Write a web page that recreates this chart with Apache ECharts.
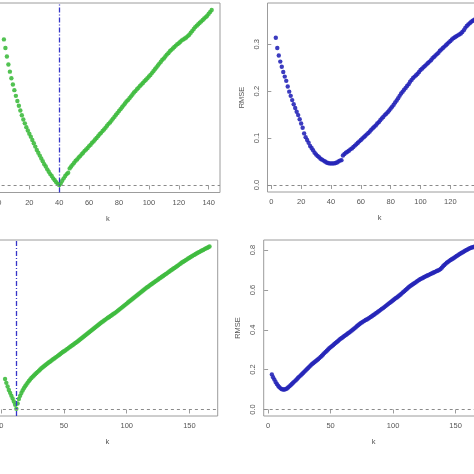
<!DOCTYPE html>
<html>
<head>
<meta charset="utf-8">
<script src="https://cdn.jsdelivr.net/npm/echarts@6/dist/echarts.min.js"></script>
<style>
html,body{margin:0;padding:0;background:#fff;}
#chart{width:474px;height:474px;}
</style>
</head>
<body>
<div id="chart"></div>
<script>
// ---------- data ----------
const kStartTop = 3;      // first k in the top panels
const kStartBottom = 3;   // first k in the bottom panels
const optimalKTop = 40;   // vertical dot-dash line, top-left panel
const optimalKBottom = 12;// vertical dot-dash line, bottom-left panel
const zeroLevel = 0;      // horizontal dashed reference line

// top-left panel (green), k = 3..142
const topLeftValues = [
  0.308,0.290,0.272,0.255,0.240,0.226,0.213,0.201,
  0.189,0.178,0.168,0.158,0.148,0.139,0.131,0.123,0.116,0.109,
  0.103,0.096,0.089,0.082,0.075,0.069,0.063,0.057,0.051,0.045,
  0.040,0.034,0.029,0.024,0.020,0.015,0.011,0.007,0.003,0.001,
  0.004,0.010,0.015,0.020,0.024,0.027,0.036,0.040,0.044,0.048,
  0.052,0.055,0.059,0.062,0.066,0.069,0.073,0.076,0.079,0.083,
  0.086,0.090,0.093,0.097,0.100,0.104,0.108,0.111,0.115,0.118,
  0.122,0.126,0.130,0.133,0.137,0.141,0.145,0.149,0.153,0.157,
  0.161,0.165,0.169,0.173,0.177,0.180,0.184,0.188,0.192,0.196,
  0.199,0.203,0.206,0.210,0.213,0.216,0.220,0.223,0.226,0.230,
  0.233,0.237,0.241,0.245,0.249,0.253,0.257,0.261,0.265,0.268,
  0.272,0.276,0.279,0.283,0.286,0.289,0.292,0.295,0.298,0.300,
  0.303,0.306,0.308,0.310,0.312,0.315,0.318,0.322,0.326,0.330,
  0.334,0.337,0.340,0.343,0.346,0.349,0.352,0.355,0.358,0.362,
  0.366,0.370
];

// top-right panel (blue RMSE), k = 3..142
const topRightRMSE = [
  0.314,0.292,0.276,0.263,0.252,0.241,0.231,0.222,
  0.210,0.199,0.190,0.181,0.172,0.164,0.156,0.149,0.140,0.131,
  0.122,0.110,0.102,0.096,0.090,0.083,0.079,0.074,0.069,0.065,
  0.062,0.059,0.056,0.054,0.052,0.050,0.048,0.047,0.046,0.046,
  0.046,0.046,0.047,0.048,0.050,0.052,0.053,0.063,0.066,0.069,
  0.071,0.073,0.076,0.078,0.081,0.084,0.087,0.090,0.093,0.096,
  0.099,0.102,0.105,0.108,0.111,0.114,0.118,0.121,0.124,0.127,
  0.131,0.134,0.138,0.142,0.145,0.149,0.152,0.155,0.159,0.163,
  0.167,0.171,0.176,0.180,0.185,0.190,0.195,0.199,0.203,0.207,
  0.211,0.215,0.220,0.224,0.228,0.231,0.234,0.237,0.241,0.245,
  0.248,0.251,0.254,0.257,0.260,0.263,0.266,0.270,0.273,0.276,
  0.279,0.282,0.286,0.289,0.292,0.295,0.298,0.301,0.304,0.307,
  0.310,0.313,0.315,0.317,0.319,0.321,0.323,0.326,0.330,0.335,
  0.339,0.342,0.345,0.348,0.350,0.352,0.355,0.358,0.362,0.365,
  0.369,0.373
];

// bottom-left panel (green), k = 3..166
const bottomLeftValues = [
  0.152,0.133,0.115,0.097,0.083,0.069,0.055,0.040,
  0.024,0.004,0.030,0.052,0.068,0.082,0.095,0.106,0.116,0.125,
  0.134,0.142,0.150,0.157,0.164,0.170,0.176,0.182,0.188,0.194,
  0.200,0.206,0.211,0.216,0.221,0.226,0.231,0.236,0.240,0.245,
  0.250,0.254,0.259,0.263,0.268,0.272,0.277,0.282,0.287,0.291,
  0.295,0.300,0.304,0.309,0.313,0.318,0.322,0.327,0.332,0.336,
  0.341,0.346,0.351,0.356,0.361,0.366,0.371,0.376,0.381,0.386,
  0.391,0.396,0.401,0.406,0.411,0.416,0.421,0.426,0.431,0.436,
  0.440,0.445,0.449,0.454,0.458,0.462,0.467,0.471,0.476,0.480,
  0.484,0.489,0.494,0.499,0.504,0.509,0.514,0.519,0.524,0.529,
  0.534,0.539,0.544,0.549,0.554,0.559,0.564,0.569,0.574,0.579,
  0.584,0.589,0.594,0.599,0.604,0.609,0.613,0.618,0.623,0.627,
  0.632,0.636,0.641,0.645,0.649,0.654,0.658,0.663,0.667,0.672,
  0.676,0.680,0.685,0.689,0.694,0.698,0.703,0.707,0.711,0.716,
  0.720,0.725,0.729,0.734,0.738,0.742,0.746,0.750,0.754,0.758,
  0.762,0.766,0.770,0.773,0.777,0.781,0.784,0.787,0.791,0.794,
  0.797,0.801,0.804,0.807,0.810,0.814
];

// bottom-right panel (blue RMSE), k = 3..166
const bottomRightRMSE = [
  0.176,0.162,0.150,0.138,0.128,0.119,0.112,0.106,
  0.102,0.100,0.100,0.102,0.105,0.110,0.116,0.122,0.128,0.134,
  0.140,0.146,0.152,0.159,0.165,0.171,0.177,0.183,0.190,0.196,
  0.202,0.208,0.215,0.221,0.227,0.232,0.237,0.242,0.247,0.252,
  0.258,0.264,0.270,0.276,0.283,0.289,0.295,0.301,0.307,0.313,
  0.318,0.323,0.329,0.334,0.339,0.344,0.350,0.355,0.359,0.364,
  0.369,0.373,0.378,0.383,0.387,0.392,0.397,0.402,0.407,0.412,
  0.418,0.423,0.428,0.433,0.437,0.441,0.445,0.449,0.452,0.456,
  0.460,0.464,0.468,0.473,0.477,0.482,0.486,0.491,0.495,0.500,
  0.505,0.509,0.514,0.519,0.524,0.529,0.534,0.538,0.543,0.548,
  0.553,0.558,0.562,0.567,0.572,0.577,0.583,0.589,0.594,0.600,
  0.605,0.611,0.616,0.621,0.625,0.630,0.634,0.638,0.643,0.647,
  0.651,0.655,0.658,0.661,0.665,0.668,0.671,0.674,0.677,0.680,
  0.683,0.686,0.689,0.692,0.695,0.698,0.701,0.705,0.712,0.719,
  0.725,0.731,0.737,0.741,0.746,0.750,0.754,0.758,0.762,0.767,
  0.771,0.775,0.779,0.783,0.787,0.790,0.794,0.798,0.801,0.805,
  0.808,0.811,0.813,0.815,0.817,0.818
];

// tick labels
const topXTicks = [0, 20, 40, 60, 80, 100, 120, 140];
const bottomXTicks = [0, 50, 100, 150];
const topRightYTicks = [0, 0.1, 0.2, 0.3];
const bottomRightYTicks = [0, 0.2, 0.4, 0.6, 0.8];
const xName = 'k';
const yName = 'RMSE';

// ---------- build ----------
const GREEN = '#3fbb3f';
const BLUE = '#2626b8';
const BOX = '#9c9c9c';
const TXT = '#555555';
const FONT = 'Liberation Sans, Arial, sans-serif';

function pairs(start, vals) { return vals.map((v, i) => [start + i, v]); }
function xRange(start, n) { const a = start, b = start + n - 1, e = 0.04 * (b - a); return [a - e, b + e]; }
function yRange(vals) { const m = Math.max.apply(null, vals); return [-0.04 * m, 1.04 * m]; }

const panels = [
  { grid: { left: -4.4, top: 3, width: 224.4, height: 189.5 }, vals: topLeftValues, start: kStartTop, color: GREEN, xt: topXTicks, yt: null, vline: optimalKTop },
  { grid: { left: 267.5, top: 3, width: 224.0, height: 189.0 }, vals: topRightRMSE, start: kStartTop, color: BLUE, xt: topXTicks, yt: topRightYTicks, vline: null },
  { grid: { left: -3.1, top: 240, width: 220.8, height: 176 }, vals: bottomLeftValues, start: kStartBottom, color: GREEN, xt: bottomXTicks, yt: null, vline: optimalKBottom },
  { grid: { left: 263.7, top: 240, width: 220.0, height: 176 }, vals: bottomRightRMSE, start: kStartBottom, color: BLUE, xt: bottomXTicks, yt: bottomRightYTicks, vline: null }
];

const grid = [], xAxis = [], yAxis = [], series = [];
panels.forEach((p, i) => {
  grid.push(Object.assign({ show: true, borderColor: BOX, borderWidth: 1, backgroundColor: 'transparent',
                            containLabel: false, outerBoundsMode: 'none' }, p.grid));
  const xr = xRange(p.start, p.vals.length);
  const yr = yRange(p.vals);
  xAxis.push({
    type: 'value', gridIndex: i, min: xr[0], max: xr[1],
    axisLine: { show: false }, splitLine: { show: false },
    axisTick: { show: true, customValues: p.xt, length: 4, lineStyle: { color: BOX } },
    axisLabel: { customValues: p.xt, color: TXT, fontSize: 7.5, fontFamily: FONT, margin: 6 },
    name: xName, nameLocation: 'middle', nameGap: 22,
    nameTextStyle: { color: TXT, fontSize: 7.5, fontFamily: FONT }
  });
  if (p.yt) {
    yAxis.push({
      type: 'value', gridIndex: i, min: yr[0], max: yr[1],
      axisLine: { show: false }, splitLine: { show: false },
      axisTick: { show: true, customValues: p.yt, length: 4, lineStyle: { color: BOX } },
      axisLabel: { customValues: p.yt, rotate: 90, color: TXT, fontSize: 7.5, fontFamily: FONT, margin: 7,
                   formatter: v => v.toFixed(1) },
      name: yName, nameLocation: 'middle', nameRotate: 90, nameGap: 22,
      nameTextStyle: { color: TXT, fontSize: 7.5, fontFamily: FONT }
    });
  } else {
    yAxis.push({
      type: 'value', gridIndex: i, min: yr[0], max: yr[1],
      axisLine: { show: false }, splitLine: { show: false },
      axisTick: { show: false }, axisLabel: { show: false }
    });
  }
  const mlData = [{ yAxis: zeroLevel, lineStyle: { color: '#8a8a8a', type: [3, 3], width: 1 } }];
  if (p.vline !== null) {
    mlData.push({ xAxis: p.vline, lineStyle: { color: '#3535c8', type: [5, 2, 1, 2], width: 1.3 } });
  }
  series.push({
    type: 'scatter', xAxisIndex: i, yAxisIndex: i,
    data: pairs(p.start, p.vals),
    symbol: 'circle', symbolSize: 4.4,
    itemStyle: { color: p.color, opacity: 0.9 },
    silent: true,
    markLine: { silent: true, symbol: ['none', 'none'], label: { show: false }, data: mlData, animation: false }
  });
});

const chart = echarts.init(document.getElementById('chart'), null, { renderer: 'canvas' });
chart.setOption({ animation: false, backgroundColor: '#ffffff', grid, xAxis, yAxis, series });
</script>
</body>
</html>
